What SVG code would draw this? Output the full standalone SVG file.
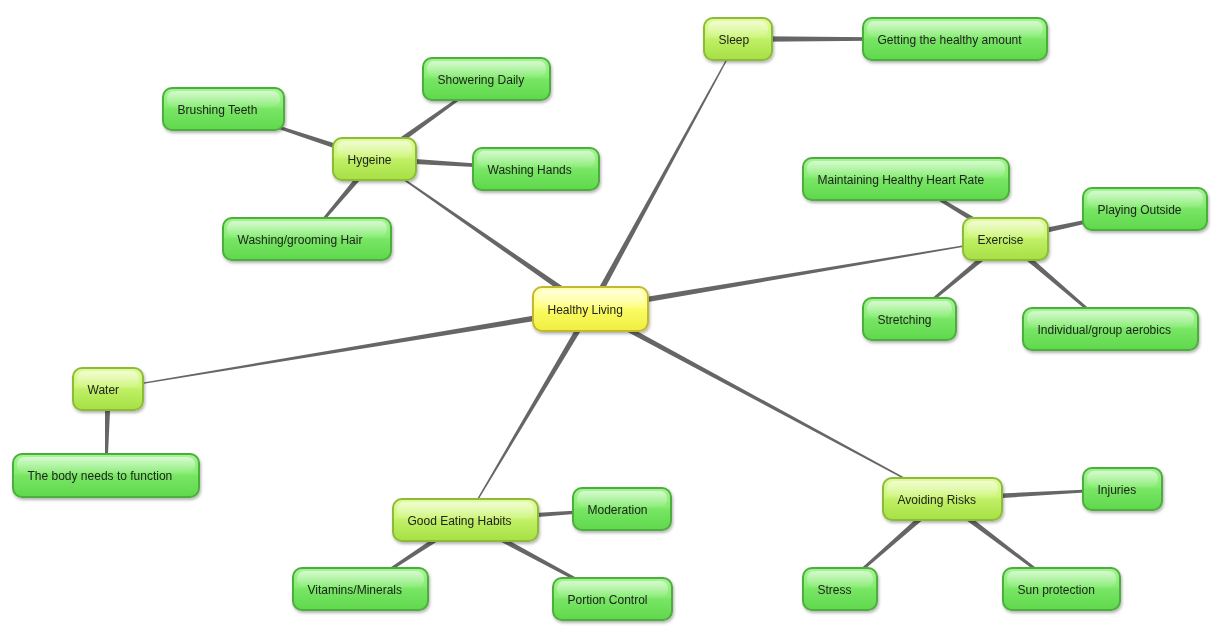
<svg xmlns="http://www.w3.org/2000/svg" width="1217" height="631" viewBox="0 0 1217 631">
<defs>
<linearGradient id="gLeaf" x1="0" y1="0" x2="0" y2="1">
<stop offset="0" stop-color="#a6f596"/><stop offset="0.45" stop-color="#86ec72"/><stop offset="0.5" stop-color="#78e664"/><stop offset="1" stop-color="#5fd84c"/>
</linearGradient>
<linearGradient id="gBranch" x1="0" y1="0" x2="0" y2="1">
<stop offset="0" stop-color="#e2fb9e"/><stop offset="0.45" stop-color="#cdf57a"/><stop offset="0.5" stop-color="#c0f066"/><stop offset="1" stop-color="#a6e044"/>
</linearGradient>
<linearGradient id="gRoot" x1="0" y1="0" x2="0" y2="1">
<stop offset="0" stop-color="#ffffb4"/><stop offset="0.45" stop-color="#ffff80"/><stop offset="0.5" stop-color="#fbfb66"/><stop offset="1" stop-color="#eeee40"/>
</linearGradient>
<linearGradient id="gGloss" x1="0" y1="0" x2="0" y2="1">
<stop offset="0" stop-color="#ffffff" stop-opacity="0.55"/><stop offset="1" stop-color="#ffffff" stop-opacity="0.05"/>
</linearGradient>
<filter id="sh" x="-10%" y="-10%" width="130%" height="140%">
<feDropShadow dx="1" dy="2" stdDeviation="1.5" flood-color="#000" flood-opacity="0.3"/>
</filter>
</defs>
<style>
.leaf rect.b{fill:url(#gLeaf);stroke:#4cae3c;stroke-width:2}
.branch rect.b{fill:url(#gBranch);stroke:#8cbc36;stroke-width:2}
.root rect.b{fill:url(#gRoot);stroke:#c4b830;stroke-width:2}
rect.g{fill:url(#gGloss)}
text{font-family:"Liberation Sans",Arial,sans-serif;font-size:12px;fill:#222}
.conn polygon{fill:#666}
g.node{filter:url(#sh)}
</style>
<rect width="1217" height="631" fill="#fff"/>
<g id="connectors" class="conn">
<polygon points="592.2,306.5 374.8,158.6 374.2,159.4 588.8,311.5"/>
<polygon points="593.1,310.4 738.4,39.2 737.6,38.8 587.9,307.6"/>
<polygon points="591.0,312.0 1005.6,239.5 1005.4,238.5 590.0,306.0"/>
<polygon points="590.0,306.0 107.9,388.5 108.1,389.5 591.0,312.0"/>
<polygon points="587.9,307.5 465.1,519.75 465.9,520.25 593.1,310.5"/>
<polygon points="589.1,311.6 942.3,499.4 942.7,498.6 591.9,306.4"/>
<polygon points="376.2,161.4 487.1,79.8 485.9,78.2 372.8,156.6"/>
<polygon points="374.3,162.0 535.9,170.0 536.1,168.0 374.7,156.0"/>
<polygon points="375.4,156.2 223.8,108.05 223.2,109.95 373.6,161.8"/>
<polygon points="372.2,157.1 306.2,238.4 307.8,239.6 376.8,160.9"/>
<polygon points="738,42 955,40 955,38 738,36"/>
<polygon points="1007.05,236.4 906.5,178.1 905.5,179.9 1003.95,241.6"/>
<polygon points="1006.1,241.9 1145.2,210.0 1144.8,208.0 1004.9,236.1"/>
<polygon points="1003.6,236.7 908.9,318.2 910.1,319.8 1007.4,241.3"/>
<polygon points="1003.55,241.3 1109.85,329.8 1111.15,328.2 1007.45,236.7"/>
<polygon points="105,388.9 105,475.5 107,475.5 111,389.1"/>
<polygon points="465.7,523.0 622.1,510.0 621.9,508.0 465.3,517.0"/>
<polygon points="463.85,517.5 359.95,588.2 361.05,589.8 467.15,522.5"/>
<polygon points="464.1,522.6 612.0,599.9 613.0,598.1 466.9,517.4"/>
<polygon points="942.7,502.0 1122.6,490.0 1122.4,488.0 942.3,496.0"/>
<polygon points="940.5,496.75 839.3,588.25 840.7,589.75 944.5,501.25"/>
<polygon points="940.7,501.4 1060.9,589.8 1062.1,588.2 944.3,496.6"/>
</g>
<g id="healthy-living" class="node root"><rect class="b" x="533" y="287" width="115" height="44" rx="9"/><rect class="g" x="537" y="290" width="107" height="17" rx="7"/><text x="547.5" y="313.5">Healthy Living</text></g>
<g id="hygeine" class="node branch"><rect class="b" x="333" y="138" width="83" height="42" rx="9"/><rect class="g" x="337" y="141" width="75" height="16" rx="7"/><text x="347.5" y="163.5">Hygeine</text></g>
<g id="showering-daily" class="node leaf"><rect class="b" x="423" y="58" width="127" height="42" rx="9"/><rect class="g" x="427" y="61" width="119" height="16" rx="7"/><text x="437.5" y="83.5">Showering Daily</text></g>
<g id="washing-hands" class="node leaf"><rect class="b" x="473" y="148" width="126" height="42" rx="9"/><rect class="g" x="477" y="151" width="118" height="16" rx="7"/><text x="487.5" y="173.5">Washing Hands</text></g>
<g id="brushing-teeth" class="node leaf"><rect class="b" x="163" y="88" width="121" height="42" rx="9"/><rect class="g" x="167" y="91" width="113" height="16" rx="7"/><text x="177.5" y="113.5">Brushing Teeth</text></g>
<g id="washing-hair" class="node leaf"><rect class="b" x="223" y="218" width="168" height="42" rx="9"/><rect class="g" x="227" y="221" width="160" height="16" rx="7"/><text x="237.5" y="243.5">Washing/grooming Hair</text></g>
<g id="sleep" class="node branch"><rect class="b" x="704" y="18" width="68" height="42" rx="9"/><rect class="g" x="708" y="21" width="60" height="16" rx="7"/><text x="718.5" y="43.5">Sleep</text></g>
<g id="getting-healthy-amount" class="node leaf"><rect class="b" x="863" y="18" width="184" height="42" rx="9"/><rect class="g" x="867" y="21" width="176" height="16" rx="7"/><text x="877.5" y="43.5">Getting the healthy amount</text></g>
<g id="exercise" class="node branch"><rect class="b" x="963" y="218" width="85" height="42" rx="9"/><rect class="g" x="967" y="221" width="77" height="16" rx="7"/><text x="977.5" y="243.5">Exercise</text></g>
<g id="maintaining-heart-rate" class="node leaf"><rect class="b" x="803" y="158" width="206" height="42" rx="9"/><rect class="g" x="807" y="161" width="198" height="16" rx="7"/><text x="817.5" y="183.5">Maintaining Healthy Heart Rate</text></g>
<g id="playing-outside" class="node leaf"><rect class="b" x="1083" y="188" width="124" height="42" rx="9"/><rect class="g" x="1087" y="191" width="116" height="16" rx="7"/><text x="1097.5" y="213.5">Playing Outside</text></g>
<g id="stretching" class="node leaf"><rect class="b" x="863" y="298" width="93" height="42" rx="9"/><rect class="g" x="867" y="301" width="85" height="16" rx="7"/><text x="877.5" y="323.5">Stretching</text></g>
<g id="aerobics" class="node leaf"><rect class="b" x="1023" y="308" width="175" height="42" rx="9"/><rect class="g" x="1027" y="311" width="167" height="16" rx="7"/><text x="1037.5" y="333.5">Individual/group aerobics</text></g>
<g id="water" class="node branch"><rect class="b" x="73" y="368" width="70" height="42" rx="9"/><rect class="g" x="77" y="371" width="62" height="16" rx="7"/><text x="87.5" y="393.5">Water</text></g>
<g id="body-needs" class="node leaf"><rect class="b" x="13" y="454" width="186" height="43" rx="9"/><rect class="g" x="17" y="457" width="178" height="16" rx="7"/><text x="27.5" y="480">The body needs to function</text></g>
<g id="good-eating-habits" class="node branch"><rect class="b" x="393" y="499" width="145" height="42" rx="9"/><rect class="g" x="397" y="502" width="137" height="16" rx="7"/><text x="407.5" y="524.5">Good Eating Habits</text></g>
<g id="moderation" class="node leaf"><rect class="b" x="573" y="488" width="98" height="42" rx="9"/><rect class="g" x="577" y="491" width="90" height="16" rx="7"/><text x="587.5" y="513.5">Moderation</text></g>
<g id="vitamins-minerals" class="node leaf"><rect class="b" x="293" y="568" width="135" height="42" rx="9"/><rect class="g" x="297" y="571" width="127" height="16" rx="7"/><text x="307.5" y="593.5">Vitamins/Minerals</text></g>
<g id="portion-control" class="node leaf"><rect class="b" x="553" y="578" width="119" height="42" rx="9"/><rect class="g" x="557" y="581" width="111" height="16" rx="7"/><text x="567.5" y="603.5">Portion Control</text></g>
<g id="avoiding-risks" class="node branch"><rect class="b" x="883" y="478" width="119" height="42" rx="9"/><rect class="g" x="887" y="481" width="111" height="16" rx="7"/><text x="897.5" y="503.5">Avoiding Risks</text></g>
<g id="injuries" class="node leaf"><rect class="b" x="1083" y="468" width="79" height="42" rx="9"/><rect class="g" x="1087" y="471" width="71" height="16" rx="7"/><text x="1097.5" y="493.5">Injuries</text></g>
<g id="stress" class="node leaf"><rect class="b" x="803" y="568" width="74" height="42" rx="9"/><rect class="g" x="807" y="571" width="66" height="16" rx="7"/><text x="817.5" y="593.5">Stress</text></g>
<g id="sun-protection" class="node leaf"><rect class="b" x="1003" y="568" width="117" height="42" rx="9"/><rect class="g" x="1007" y="571" width="109" height="16" rx="7"/><text x="1017.5" y="593.5">Sun protection</text></g>
</svg>
